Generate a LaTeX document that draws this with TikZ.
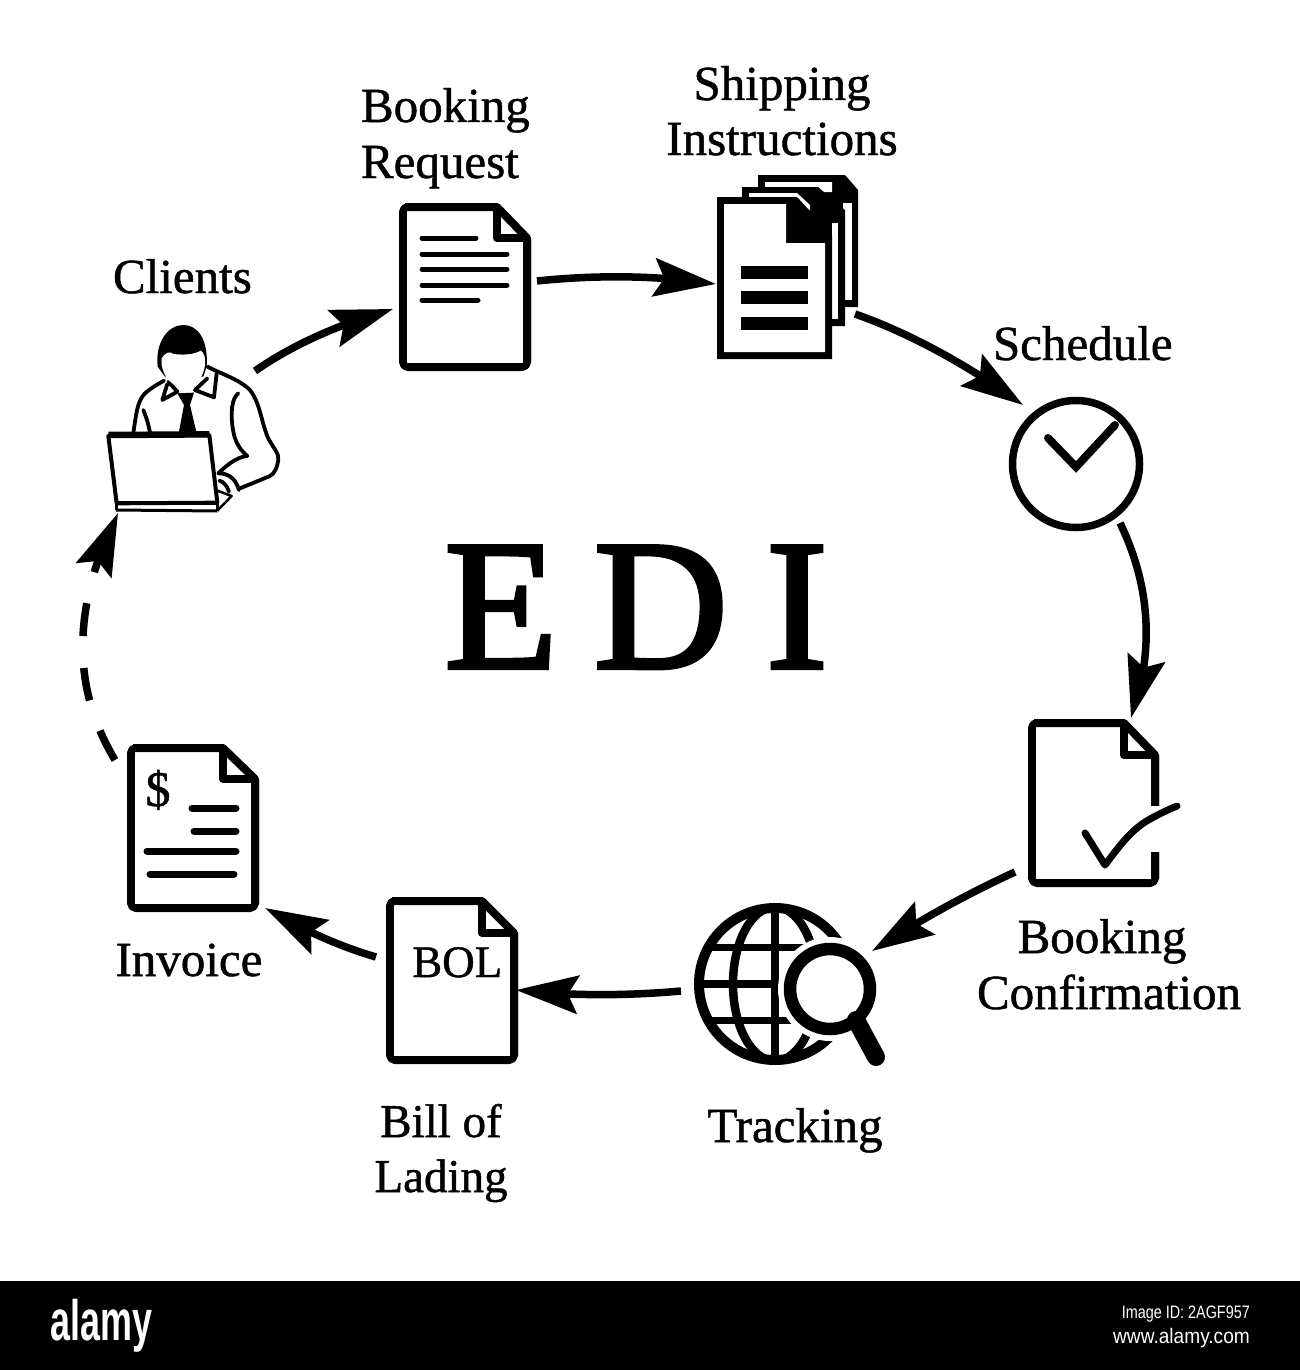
\documentclass[tikz,border=0pt]{standalone}
\usepackage{fontspec}
\setmainfont{Liberation Serif}
\newfontfamily\labelfont[FakeBold=1.0]{Liberation Serif}
\newfontfamily\titlefont[FakeBold=2.2]{Liberation Serif}
\newfontfamily\logofont{Liberation Sans}
\usetikzlibrary{arrows.meta,bending}
\tikzset{
  lbl/.style={inner sep=0pt,outer sep=0pt,anchor=base,font=\labelfont\fontsize{49}{56}\selectfont,text=black},
  lblL/.style={lbl,anchor=base west},
  conn/.style={line width=7.5pt,-{Stealth[length=62pt,width=38pt,inset=10pt]}},
  dashconn/.style={conn,dash pattern=on 33pt off 32pt},
  docline/.style={line width=8pt,line join=round,draw=black,fill=white},
  txtline/.style={line width=5pt,line cap=round},
  invline/.style={line width=7pt,line cap=round},
  person/.style={line width=3.8pt,line cap=round,line join=round},
  icon/.style={inner sep=0pt,outer sep=0pt,draw=none,fill=none}
}
% doc outline: left, top, right, bottom, fold x, fold y
\newcommand{\docshape}[6]{%
  \draw[docline,rounded corners=5pt] (#5,#2)--(#1,#2)--(#1,#4)--(#3,#4)--(#3,#6);
  \fill[white] (#1+4,#2+4) rectangle (#3-4,#4-4);
  \draw[line width=8pt,line join=round] (#1+2,#2)--(#5,#2)--(#3,#6)--(#3,#4-4);
  \draw[line width=8pt,line join=round] (#5,#2)--(#5,#6)--(#3,#6);
}
\begin{document}
\begin{tikzpicture}[x=1pt,y=-1pt]
\useasboundingbox (0,0) rectangle (1300,1370);
\fill[white] (0,0) rectangle (1300,1370);

% ---------- footer band
\fill[black] (0,1281) rectangle (1300,1370);
\node[inner sep=0pt,anchor=base west,text=white] (logo) at (50,1340) {\scalebox{0.63}[1]{\logofont\bfseries\fontsize{57}{60}\selectfont alamy}};
\node[inner sep=0pt,anchor=base east,text=white] (imgid) at (1250,1318) {\scalebox{0.8}[1]{\logofont\fontsize{18}{20}\selectfont Image ID: 2AGF957}};
\node[inner sep=0pt,anchor=base east,text=white] (www) at (1250,1343) {\scalebox{0.91}[1]{\logofont\fontsize{21}{24}\selectfont www.alamy.com}};

% ---------- centre title
\node[inner sep=0pt,anchor=base west] (edi) at (444,668) {\titlefont\fontsize{186}{190}\selectfont E\hspace{36pt}D\hspace{38pt}I};

% ---------- icon frames (named, invisible)
\node[icon,minimum width=172pt,minimum height=200pt] (clients) at (194,420) {};
\node[icon,minimum width=132pt,minimum height=168pt] (request) at (465,287) {};
\node[icon,minimum width=141pt,minimum height=184pt] (shipping) at (788,267) {};
\node[icon,minimum width=135pt,minimum height=135pt] (schedule) at (1076,464) {};
\node[icon,minimum width=131pt,minimum height=168pt] (confirm) at (1094,803) {};
\node[icon,minimum width=190pt,minimum height=170pt] (tracking) at (790,985) {};
\node[icon,minimum width=132pt,minimum height=167pt] (bol) at (452,980) {};
\node[icon,minimum width=132pt,minimum height=168pt] (invoice) at (193,828) {};

% ---------- Clients (person + laptop), drawn in zoom coordinates
\begin{scope}[shift={(90,310)},x=0.33333pt,y=-0.33333pt]
  % body
  \draw[person] (130,368) .. controls (138,320) and (140,275) .. (165,250) .. controls (185,232) and (205,222) .. (222,212);
  \draw[person] (180,368) .. controls (175,340) and (168,320) .. (160,300);
  \draw[person] (352,170) .. controls (390,190) and (440,205) .. (475,235) .. controls (510,270) and (515,345) .. (535,385) .. controls (550,415) and (568,430) .. (565,450) .. controls (562,470) and (555,490) .. (540,498) -- (450,535);
  \draw[person] (445,250) .. controls (425,265) and (420,310) .. (430,365) .. controls (435,395) and (450,420) .. (472,438) .. controls (440,440) and (405,470) .. (385,490) .. controls (410,490) and (435,500) .. (447,540);
  \draw[person] (388,512) .. controls (400,515) and (410,525) .. (417,545);
  % collar
  \draw[person] (232,222) -- (217,270) -- (262,245) -- (235,215);
  \draw[person] (380,190) -- (372,262) -- (315,240) -- (352,205);
  % tie
  \fill (262,250) -- (312,248) -- (300,285) -- (320,370) -- (266,370) -- (282,285) -- cycle;
  % hair
  \fill (203,170) .. controls (195,95) and (235,45) .. (280,45) .. controls (325,45) and (355,90) .. (350,170) -- (340,200) -- (225,200) -- cycle;
  % face
  \fill[white] (215,145) .. controls (225,128) and (240,122) .. (250,132) .. controls (280,135) and (310,135) .. (332,122) .. controls (342,128) and (348,145) .. (345,165) .. controls (340,205) and (315,232) .. (283,232) .. controls (250,232) and (222,205) .. (215,165) -- cycle;
  % laptop
  \filldraw[fill=white,line width=4pt,line join=round] (55,378) -- (358,375) -- (382,578) -- (80,580) -- cycle;
  \draw[line width=6.5pt] (55,375) -- (358,373);
  \draw[line width=4pt] (80,578) -- (382,578);
  \draw[line width=2.5pt,line join=round] (382,602) -- (425,558) -- (382,542);
  \draw[line width=3pt] (78,600) -- (382,603);
  \draw[line width=3pt] (78,578) -- (78,600);
  \draw[line width=3pt] (382,578) -- (382,603);
\end{scope}

% ---------- Booking Request document
\docshape{403}{207}{527}{367}{497}{238}
\foreach \yy/\xe in {238/476,254/507,269/507,285/507,300/478}
  \draw[txtline] (422,\yy) -- (\xe,\yy);

% ---------- Shipping Instructions pages
\fill (758,175) -- (845,175) -- (858,190) -- (858,307) -- (758,307) -- cycle;
\fill[white] (765,182) -- (832,182) -- (832,192) -- (800,192) -- (765,192) -- cycle;
\fill[white] (843,203) rectangle (852,300);
\fill (742,187) -- (818,187) -- (845,210) -- (845,326) -- (742,326) -- cycle;
\fill[white] (749,193) -- (797,193) -- (810,205) -- (810,210) -- (749,210) -- cycle;
\fill[white] (832,223) rectangle (838,319);
\fill (717,197) -- (797,197) -- (832,235) -- (832,359) -- (717,359) -- cycle;
\fill[white] (724,204) -- (786,204) -- (786,243) -- (825,243) -- (825,352) -- (724,352) -- cycle;
\fill (741,266) rectangle (808,279);
\fill (741,291) rectangle (808,304);
\fill (741,317) rectangle (808,330);

% ---------- Schedule clock
\draw[line width=7.5pt] (schedule) circle (63.5);
\draw[line width=8pt,line cap=round,line join=miter] (1048,438) -- (1076,467) -- (1115,425);

% ---------- Booking Confirmation document
\docshape{1032}{723}{1155}{883}{1124}{755}
\fill[white] (1148,806) rectangle (1165,852);
\draw[line width=7pt,line cap=round,line join=round] (1085,833) -- (1105,865) .. controls (1120,845) and (1130,832) .. (1145,822) .. controls (1155,816) and (1165,811) .. (1177,806);

% ---------- Tracking globe + magnifier
\begin{scope}
  \draw[line width=10pt] (775,984) circle (76);
  \clip (775,984) circle (76);
  \draw[line width=8.5pt] (775,984) ellipse (42 and 77);
  \draw[line width=8.7pt] (775,903) -- (775,1065);
  \draw[line width=7pt] (694,947) -- (856,947);
  \draw[line width=8pt] (694,984) -- (856,984);
  \draw[line width=7pt] (694,1020) -- (856,1020);
\end{scope}
\fill[white] (830,989) circle (52);
\draw[line width=26pt,white] (857,1022) -- (877,1058);
\draw[line width=12.5pt] (830,989) circle (40);
\draw[line width=18pt,line cap=round] (856,1020) -- (876,1057);

% ---------- Bill of Lading document
\docshape{390}{901}{514}{1060}{482}{933}
\node[inner sep=0pt,anchor=base west,font=\labelfont\fontsize{45}{50}\selectfont] (boltext) at (412,977) {BOL};

% ---------- Invoice document
\docshape{131}{748}{255}{908}{223}{779}
\node[inner sep=0pt,anchor=base,font=\labelfont\fontsize{50}{54}\selectfont] (dollar) at (158,806) {\$};
\draw[invline] (192,808) -- (236,808);
\draw[invline] (194,831) -- (236,831);
\draw[invline] (147,851) -- (236,851);
\draw[invline] (150,874) -- (234,874);

% ---------- labels
\node[lblL] (lclients) at (113,293) {Clients};
\node[lblL] (lreq1) at (361,122) {Booking};
\node[lblL] (lreq2) at (361,178) {Request};
\node[lbl] (lship1) at (782,100) {Shipping};
\node[lbl] (lship2) at (782,155) {Instructions};
\node[lblL] (lsched) at (993,360) {Schedule};
\node[lbl] (lconf1) at (1102,953) {Booking};
\node[lbl] (lconf2) at (1109,1009) {Confirmation};
\node[lbl] (ltrack) at (795,1142) {Tracking};
\node[lbl,font=\labelfont\fontsize{47}{54}\selectfont] (lbol1) at (441,1137) {Bill of};
\node[lbl,font=\labelfont\fontsize{47}{54}\selectfont] (lbol2) at (441,1192) {Lading};
\node[lbl] (linv) at (189,976) {Invoice};

% ---------- connector ends, placed relative to the icon frames
\coordinate (c1a) at ([shift={(61,-49)}]clients.center);
\coordinate (c1b) at ([shift={(-72,22)}]request.center);
\coordinate (c2a) at ([shift={(72,-6)}]request.center);
\coordinate (c2b) at ([shift={(-72,17)}]shipping.center);
\coordinate (c3a) at ([shift={(67,47)}]shipping.center);
\coordinate (c3b) at ([shift={(-53,-59)}]schedule.center);
\coordinate (c4a) at ([shift={(44,59)}]schedule.center);
\coordinate (c4b) at ([shift={(37,-85)}]confirm.center);
\coordinate (c5a) at ([shift={(-79,69)}]confirm.center);
\coordinate (c5b) at ([shift={(82,-34)}]tracking.center);
\coordinate (c6a) at ([shift={(-109,6)}]tracking.center);
\coordinate (c6b) at ([shift={(64,10)}]bol.center);
\coordinate (c7a) at ([shift={(-76,-23)}]bol.center);
\coordinate (c7b) at ([shift={(72,80)}]invoice.center);
\coordinate (c8a) at ([shift={(-78,-68)}]invoice.center);
\coordinate (c8b) at ([shift={(-76,93)}]clients.center);

\draw[conn] (c1a) .. controls (295,343) and (345,322) .. (c1b);
\draw[conn] (c2a) .. controls (595,275) and (655,275) .. (c2b);
\draw[conn] (c3a) .. controls (915,335) and (975,370) .. (c3b);
\draw[conn] (c4a) .. controls (1150,585) and (1155,650) .. (c4b);
\draw[conn] (c5a) .. controls (965,895) and (920,920) .. (c5b);
\draw[conn] (c6a) .. controls (625,996) and (570,996) .. (c6b);
\draw[conn] (c7a) .. controls (335,945) and (300,928) .. (c7b);
\draw[dashconn] (c8a) .. controls (73,690) and (70,610) .. (c8b);
\end{tikzpicture}
\end{document}
